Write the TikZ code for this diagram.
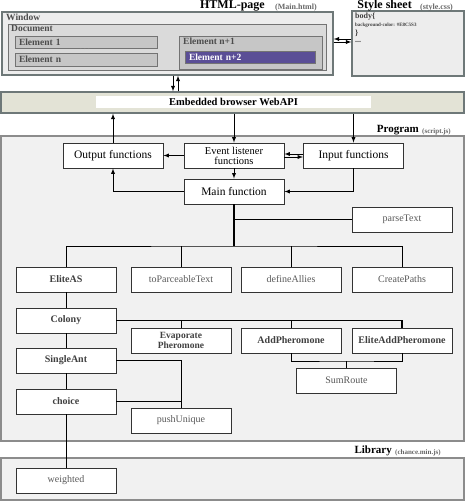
\documentclass[tikz,border=0pt]{standalone}
\usepackage{fontspec}
\setmainfont{Liberation Serif}
\usetikzlibrary{positioning,arrows,calc}
\definecolor{frameg}{HTML}{6E7878}
\definecolor{pagefill}{HTML}{EDEDED}
\definecolor{docfill}{HTML}{DADADA}
\definecolor{elemfill}{HTML}{C6C6C6}
\definecolor{purplebox}{HTML}{5A4E96}
\definecolor{apifill}{HTML}{E3E3D6}
\definecolor{progfill}{HTML}{F1F1F1}
\newcommand{\fsz}[1]{\fontsize{#1}{#1}\selectfont}

\begin{document}
\begin{tikzpicture}[x=1pt,y=-1pt,>=latex,
  panel/.style={draw=frameg,line width=1.3pt,fill=pagefill,inner sep=0pt},
  elem/.style={draw=black!55,line width=0.9pt,fill=elemfill,inner sep=0pt,font=\fsz{9.5}\bfseries,text=black!70},
  fn/.style={draw=black!80,fill=white,line width=0.9pt,minimum width=100pt,minimum height=25pt,inner sep=1pt,align=center,font=\fsz{11.5}},
  sub/.style={fn,font=\fsz{10},text=black!65},
  subb/.style={fn,font=\fsz{10}\bfseries,text=black!75},
  head/.style={font=\fsz{11}\bfseries,anchor=base east,inner sep=0pt},
  file/.style={font=\fsz{7}\bfseries,text=black!60,anchor=base west,inner sep=0pt},
  css/.style={font=\fsz{8}\bfseries,text=black!75,anchor=west,inner sep=0pt},
  link/.style={line width=0.9pt},
  tree/.style={line width=1.4pt}]
\useasboundingbox (0,0) rectangle (474,503);

% HTML page
\node[panel,minimum width=331pt,minimum height=63pt] (window) at (167.5,43.5) {};
\node[font=\fsz{9.5}\bfseries,text=black!70,anchor=north west,inner sep=1pt] (winlbl) at (5,12.5) {Window};
\node[panel,draw=black!55,line width=0.9pt,fill=docfill,minimum width=318pt,minimum height=46pt] (doc) at (167,47) {};
\node[font=\fsz{9.5}\bfseries,text=black!70,anchor=north west,inner sep=1pt] (doclbl) at (10,24) {Document};
\node[elem,minimum width=142pt,minimum height=12pt,text width=134pt,align=left] (el1) at (86,42) {Element 1};
\node[elem,minimum width=142pt,minimum height=13pt,text width=134pt,align=left] (eln) at (86,59.5) {Element n};
\node[font=\fsz{7},text=black!45,inner sep=0pt] (dots) at (85,49) {. . .};
\node[elem,minimum width=143pt,minimum height=33pt] (elk) at (250.5,52.5) {};
\node[font=\fsz{9.5}\bfseries,text=black!70,anchor=north west,inner sep=1pt] (elklbl) at (182,37) {Element n+1};
\node[elem,fill=purplebox,text=white,minimum width=130pt,minimum height=12pt,text width=122pt,align=left] (elk2) at (250,57) {Element n+2};
\node[head,font=\fsz{12}\bfseries] (htmlt) at (265,9) {HTML-page};
\node[file,font=\fsz{8}\bfseries] (htmlf) at (275,9.5) {(Main.html)};

% style sheet
\node[panel,minimum width=112pt,minimum height=65pt] (style) at (408,43.5) {};
\node[head,font=\fsz{12}\bfseries] (stylet) at (412,9) {Style sheet};
\node[file,font=\fsz{8}\bfseries] (stylef) at (420,9.5) {(style.css)};
\node[css] (css1) at (355,17) {body\{};
\node[css,font=\fsz{5}\bfseries] (css2) at (355,25) {background-color: \#E8C5S3};
\node[css] (css3) at (355,33) {\}};
\node[css] (css4) at (355,42) {...};

% web api
\node[panel,fill=apifill,minimum width=463pt,minimum height=21pt] (web) at (232.5,102.5) {};
\node[fill=white,minimum width=275pt,minimum height=12pt,inner sep=0pt,font=\fsz{10.5}\bfseries] (webt) at (233.5,102) {Embedded browser WebAPI};

\coordinate (wd) at ([xshift=5.5pt]window.south);
\coordinate (wu) at ([xshift=10.5pt]window.south);
\draw[->,link] (wd) -- (wd |- web.north);
\draw[->,link] (wu |- web.north) -- (wu);
\coordinate (sa) at ([yshift=4.5pt]style.west);
\coordinate (sb) at ([yshift=1.5pt]window.east);
\draw[->,link] (sa) -- (sa -| window.east);
\draw[->,link] (sb) -- (sb -| style.west);

% program
\node[panel,draw=black!45,fill=progfill,minimum width=463pt,minimum height=305pt] (prog) at (232.5,288.5) {};
\node[head] (progt) at (419,132) {Program};
\node[file] (progf) at (422,133) {(script.js)};
\node[panel,draw=black!45,fill=progfill,minimum width=463pt,minimum height=42pt] (lib) at (232.5,479) {};
\node[head] (libt) at (392,453) {Library};
\node[file] (libf) at (395,454) {(chance.min.js)};

\node[fn] (output) at (113,155.5) {Output functions};
\node[fn,font=\fontsize{10.5}{10}\selectfont] (event) at (234,155.5) {Event listener\\functions};
\node[fn] (input) at (353.5,155.5) {Input functions};
\node[fn] (main) at (234,191.5) {Main function};

\draw[->,link] (output.north) -- (output.north |- web.south);
\draw[->,link] (web.south -| event.north) -- (event.north);
\draw[->,link] (web.south -| input.north) -- (input.north);
\draw[->,link] (event.west) -- (output.east);
\draw[->,link] ([yshift=1.5pt]input.west) -- ([yshift=1.5pt]event.east);
\draw[->,link] ([yshift=-1.5pt]event.east) -- ([yshift=-1.5pt]input.west);
\draw[->,link] (event.south) -- (main.north);
\draw[->,link] (input.south) |- (main.east);
\draw[->,link] (main.west) -| (output.south);

% function tree
\node[sub] (parse) at (402,219.5) {parseText};
\node[subb] (elite) at (66,279.5) {EliteAS};
\node[sub] (toparse) at (181,279.5) {toParceableText};
\node[sub] (allies) at (291,279.5) {defineAllies};
\node[sub] (create) at (402,279.5) {CreatePaths};
\node[subb] (colony) at (66,320.5) {Colony};
\node[subb,font=\fontsize{9.5}{10}\selectfont\bfseries] (evap) at (181,340.5) {Evaporate\\Pheromone};
\node[subb] (addph) at (291,340.5) {AddPheromone};
\node[subb] (eliteadd) at (402,340.5) {EliteAddPheromone};
\node[sub] (sum) at (346.5,380.5) {SumRoute};
\node[subb] (single) at (66,360.5) {SingleAnt};
\node[subb] (choice) at (66,401.5) {choice};
\node[sub] (push) at (181,420.5) {pushUnique};
\node[sub] (weighted) at (66,480.5) {weighted};

\coordinate (bus) at (234,246);
\coordinate (sumjoin) at (346.5,361);
\draw[tree] (main.south) -- (bus);
\draw[link] (main.south |- parse.west) -- (parse.west);
\draw[link] (elite.north) |- (bus) -| (create.north);
\draw[link] (toparse.north) -- (toparse.north |- bus);
\draw[link] (allies.north) -- (allies.north |- bus);
\draw[link] (elite) -- (colony);
\draw[link] (colony) -- (single);
\draw[link] (single) -- (choice);
\draw[link] (choice) -- (weighted);
\draw[link,line width=1.2pt] (colony.east) -| (eliteadd.north);
\draw[link] (evap.north) -- (evap.north |- colony.east);
\draw[link] (addph.north) -- (addph.north |- colony.east);
\draw[link] (addph.south) |- (sumjoin) -| (eliteadd.south);
\draw[link] (sumjoin) -- (sum.north);
\draw[link] (single.east) -| (push.north);
\draw[link] (choice.east) -- (choice.east -| push.north);
% \draw[link] (create.north) -- ++(10,0);
\end{tikzpicture}
\end{document}
